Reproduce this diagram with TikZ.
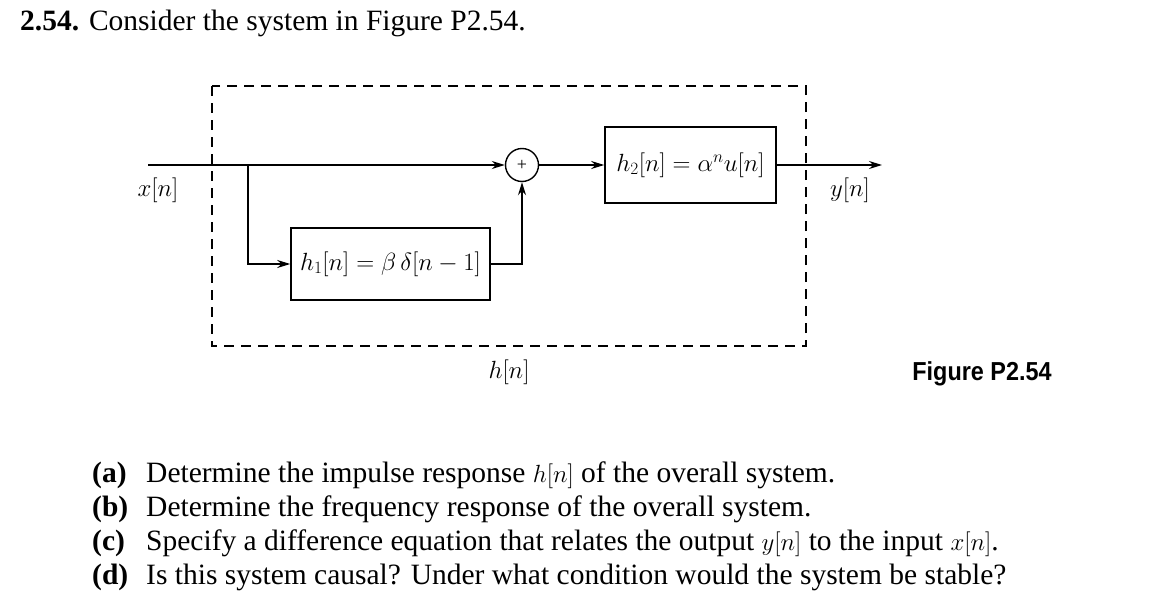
\documentclass[tikz,border=0pt]{standalone}
\usepackage{fontspec}
\setmainfont{Liberation Serif}
\newfontfamily\figsans{Liberation Sans}
\usetikzlibrary{arrows.meta}
\begin{document}
\begin{tikzpicture}[x=1pt,y=-1pt,
  sig/.style={line width=1.6pt},
  arr/.style={sig,-{Stealth[length=13pt,width=8pt]}},
  txt/.style={font=\fontsize{29.5}{32}\selectfont,anchor=base west,inner sep=0pt},
  lbl/.style={font=\fontsize{26}{28}\selectfont}]
\useasboundingbox (0,0) rectangle (1156,597);
\node[txt] (title) at (20,30) {\textbf{2.54.} Consider the system in Figure P2.54.};
\draw[line width=1.1pt,dash pattern=on 10pt off 7pt] (212,86) rectangle (806,346);
\coordinate (in) at (148,165);
\coordinate (br) at (248,165);
\node[draw,circle,line width=1.4pt,minimum size=33pt,inner sep=0pt] (sum) at (522,165) {\fontsize{18}{18}\selectfont +};
\node[draw,line width=1.6pt,minimum width=199pt,minimum height=72pt,inner sep=2pt,lbl] (h1) at (390.5,264) {$h_1[n]=\beta\,\delta[n-1]$};
\node[draw,line width=1.6pt,minimum width=171pt,minimum height=76pt,inner sep=2pt,lbl] (h2) at (690.5,165) {$h_2[n]=\alpha^n u[n]$};
\coordinate (out) at (882,165);
\draw[arr] (in) -- (sum.west);
\draw[arr] (br) |- (h1.west);
\draw[arr] (h1.east) -| (sum.south);
\draw[arr] (sum.east) -- (h2.west);
\draw[arr] (h2.east) -- (out);
\node[lbl] (x) at (158,190) {$x[n]$};
\node[lbl] (y) at (850,190) {$y[n]$};
\node[lbl] (h) at (509,372) {$h[n]$};
\node[font=\figsans\bfseries\fontsize{26}{28}\selectfont,xscale=0.9] (fig) at (982,374) {Figure P2.54};
\node[txt] (qa) at (92,482) {\textbf{(a)}};
\node[txt] (ta) at (146,482) {Determine the impulse response $h[n]$ of the overall system.};
\node[txt] (qb) at (92,516) {\textbf{(b)}};
\node[txt] (tb) at (146,516) {Determine the frequency response of the overall system.};
\node[txt] (qc) at (92,550) {\textbf{(c)}};
\node[txt] (tc) at (146,550) {Specify a difference equation that relates the output $y[n]$ to the input $x[n]$.};
\node[txt] (qd) at (92,584) {\textbf{(d)}};
\node[txt] (td) at (146,584) {Is this system causal? Under what condition would the system be stable?};
\end{tikzpicture}
\end{document}
